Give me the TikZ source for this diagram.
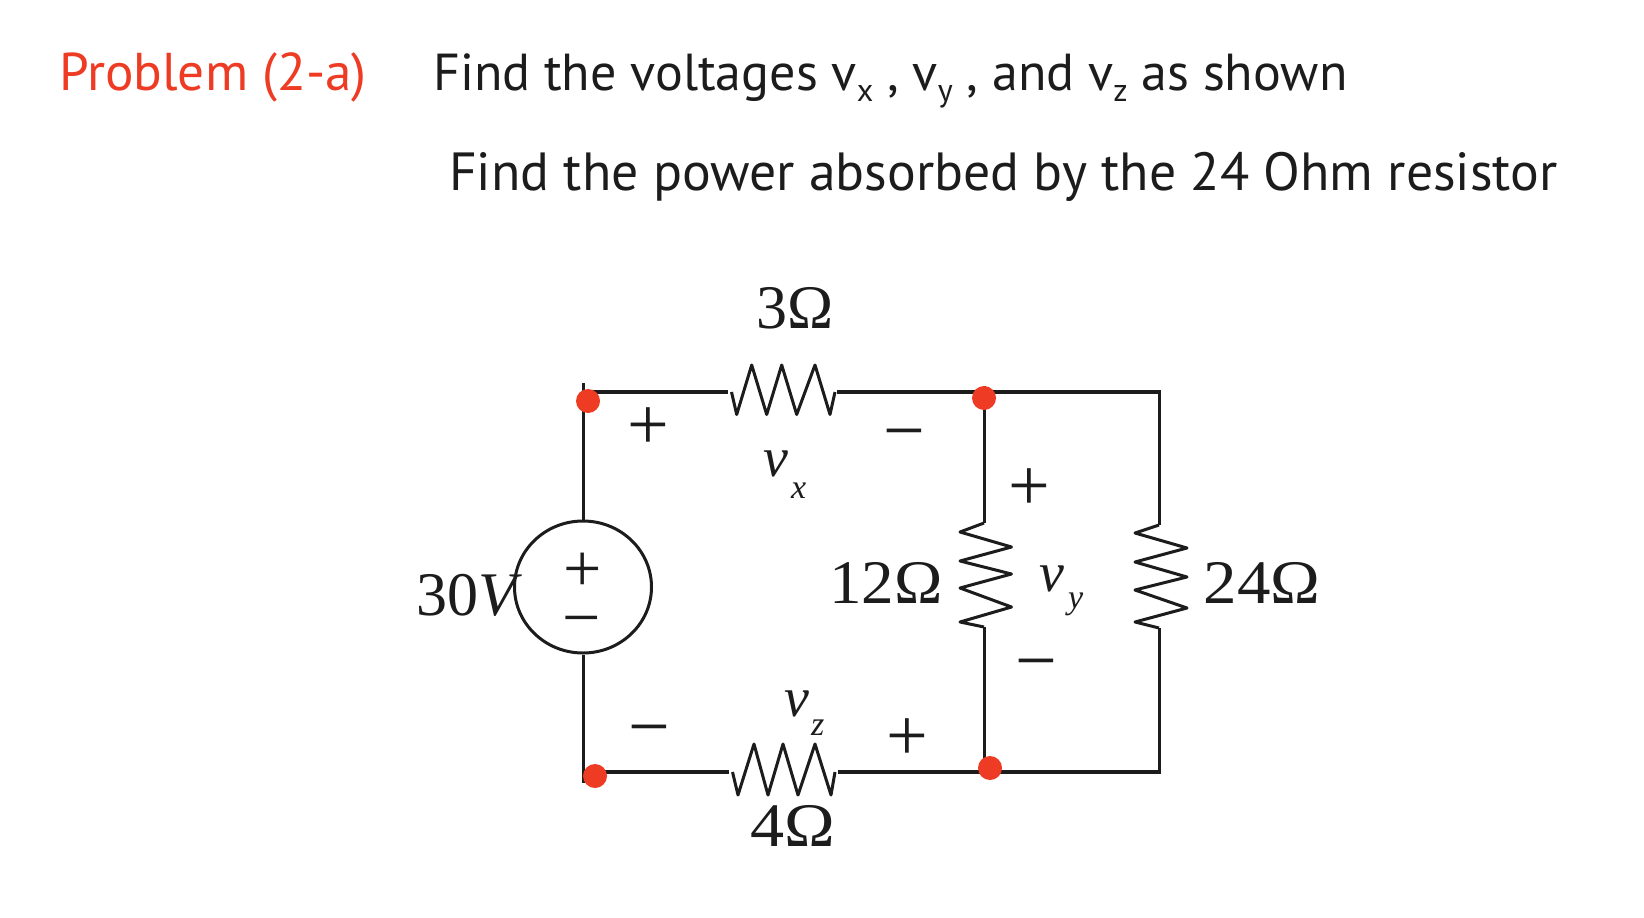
\documentclass[tikz,border=0pt]{standalone}
\usepackage{fontspec}
\usetikzlibrary{shapes.geometric}
\setmainfont{Liberation Serif}
\newfontfamily\headfont{PT Sans}
\definecolor{dotred}{HTML}{EE3B24}
\definecolor{inkc}{HTML}{1C1C1C}
\newcommand{\vsub}[1]{\raisebox{-0.22em}{\fontsize{32}{32}\selectfont #1}}
\tikzset{
  wire/.style={draw=inkc,line width=3pt,line cap=butt},
  hwire/.style={draw=inkc,line width=3.4pt,line cap=butt},
  zig/.style={draw=inkc,line width=3pt,line join=round},
  junction/.style={circle,fill=dotred,draw=none,minimum size=24pt,inner sep=0pt},
  source/.style={ellipse,draw=inkc,line width=3pt,minimum width=137pt,minimum height=132pt,inner sep=0pt},
  val/.style={anchor=base,inner sep=0pt,text=inkc,font=\fontsize{62}{62}\selectfont},
  sign/.style={anchor=base,inner sep=0pt,text=inkc,font=\fontsize{74}{74}\selectfont},
  ssign/.style={anchor=base,inner sep=0pt,text=inkc,font=\fontsize{68}{68}\selectfont},
  vv/.style={anchor=base west,inner sep=0pt,text=inkc,font=\fontsize{56}{56}\selectfont\itshape},
  vs/.style={anchor=base west,inner sep=0pt,text=inkc,font=\fontsize{34}{34}\selectfont\itshape},
  head/.style={anchor=base west,inner sep=0pt,font=\headfont\fontsize{53.7}{54}\selectfont}
}
\begin{document}
\begin{tikzpicture}[x=1pt,y=-1pt]
\useasboundingbox[fill=white] (0,0) rectangle (1644,918);
% heading
\node[head,text=dotred,font=\headfont\fontsize{53.2}{54}\selectfont] (title) at (59,90) {Problem (2-a)};
\node[head,text=inkc,font=\headfont\fontsize{52}{52}\selectfont] (l1) at (433,90) {Find the voltages v\vsub{x} , v\vsub{y} , and v\vsub{z} as shown};
\node[head,text=inkc] (l2) at (449,190) {Find the power absorbed by the 24 Ohm resistor};
% corners and ends
\coordinate (tl) at (583,392);
\coordinate (tlstub) at (583,383);
\coordinate (tm) at (984,392);
\coordinate (tmstub) at (984,386);
\coordinate (tr) at (1159,392);
\coordinate (bl) at (583,772);
\coordinate (blstub) at (583,783);
\coordinate (bm) at (984,772);
\coordinate (br) at (1159,772);
% source
\node[source] (src) at (583,587) {};
% top resistor
\coordinate (r3a) at (728,392);
\coordinate (r3b) at (837,392);
\draw[zig] (731.5,392) -- (736.7,414.5) -- (751.7,365) -- (766.7,414.5) -- (781.7,365) -- (796.7,414.5) -- (815,365) -- (830,414.5) -- (835,392);
% bottom resistor
\coordinate (r4a) at (729,772);
\coordinate (r4b) at (837.5,772);
\draw[zig] (732.5,772) -- (738,795) -- (754,744) -- (768,795) -- (783,744) -- (798,795) -- (815,744) -- (831,795) -- (835,772);
% middle resistor
\coordinate (r12a) at (984,523);
\coordinate (r12b) at (984,627);
\draw[zig] (r12a) -- (960,532) -- (1011.5,547) -- (960,561) -- (1011.5,574) -- (960,588) -- (1011.5,607) -- (960,622) -- (r12b);
% right resistor
\coordinate (r24a) at (1159,525);
\coordinate (r24b) at (1159,628);
\draw[zig] (r24a) -- (1135,533) -- (1187,548) -- (1135,562) -- (1187,577) -- (1135,590) -- (1187,608) -- (1135,622) -- (r24b);
% wires
\draw[wire] (tlstub) -- (src.north);
\draw[wire] (src.south) -- (blstub);
\draw[hwire] (tl) -- (r3a);
\draw[hwire] (r3b) -- (tr);
\draw[hwire] (bl) -- (r4a);
\draw[hwire] (r4b) -- (br);
\draw[wire] (tmstub) -- (r12a);
\draw[wire] (r12b) -- (bm);
\draw[wire] ([yshift=1.7pt]tr) -- (r24a);
\draw[wire] (r24b) -- ([yshift=-1.7pt]br);
% junctions
\node[junction] (j1) at (588,401) {};
\node[junction] (j2) at (984,398) {};
\node[junction] (j3) at (595,776) {};
\node[junction] (j4) at (990,768) {};
% values
\node[val] (v3) at (795,328) {3Ω};
\node[val] (v4) at (792.5,846) {\scalebox{1.1}[1]{4Ω}};
\node[val] (v12) at (886,603) {\scalebox{1.05}[1]{12Ω}};
\node[val] (v24) at (1262,603) {\scalebox{1.08}[1]{24Ω}};
\node[val,anchor=base west] (v30) at (416,615) {30\textit{V}};
% source signs
\node[ssign] (sp) at (582.3,591) {+};
\node[ssign] (sm) at (582,640) {−};
% polarity signs
\node[sign] (p1) at (648,449.6) {+};
\node[sign] (m1) at (904,455.6) {−};
\node[sign] (p2) at (1029,510.6) {+};
\node[sign] (m2) at (1036,685.6) {−};
\node[sign] (m3) at (649,751.6) {−};
\node[sign] (p3) at (907,760.6) {+};
% voltage labels
\node[vv] (vx) at (763,476.5) {v};
\node[vs] (vxs) at (791,498) {x};
\node[vv] (vy) at (1039,591) {v};
\node[vs] (vys) at (1068,608) {y};
\node[vv] (vz) at (784,716) {v};
\node[vs] (vzs) at (811,735) {z};
\end{tikzpicture}
\end{document}
